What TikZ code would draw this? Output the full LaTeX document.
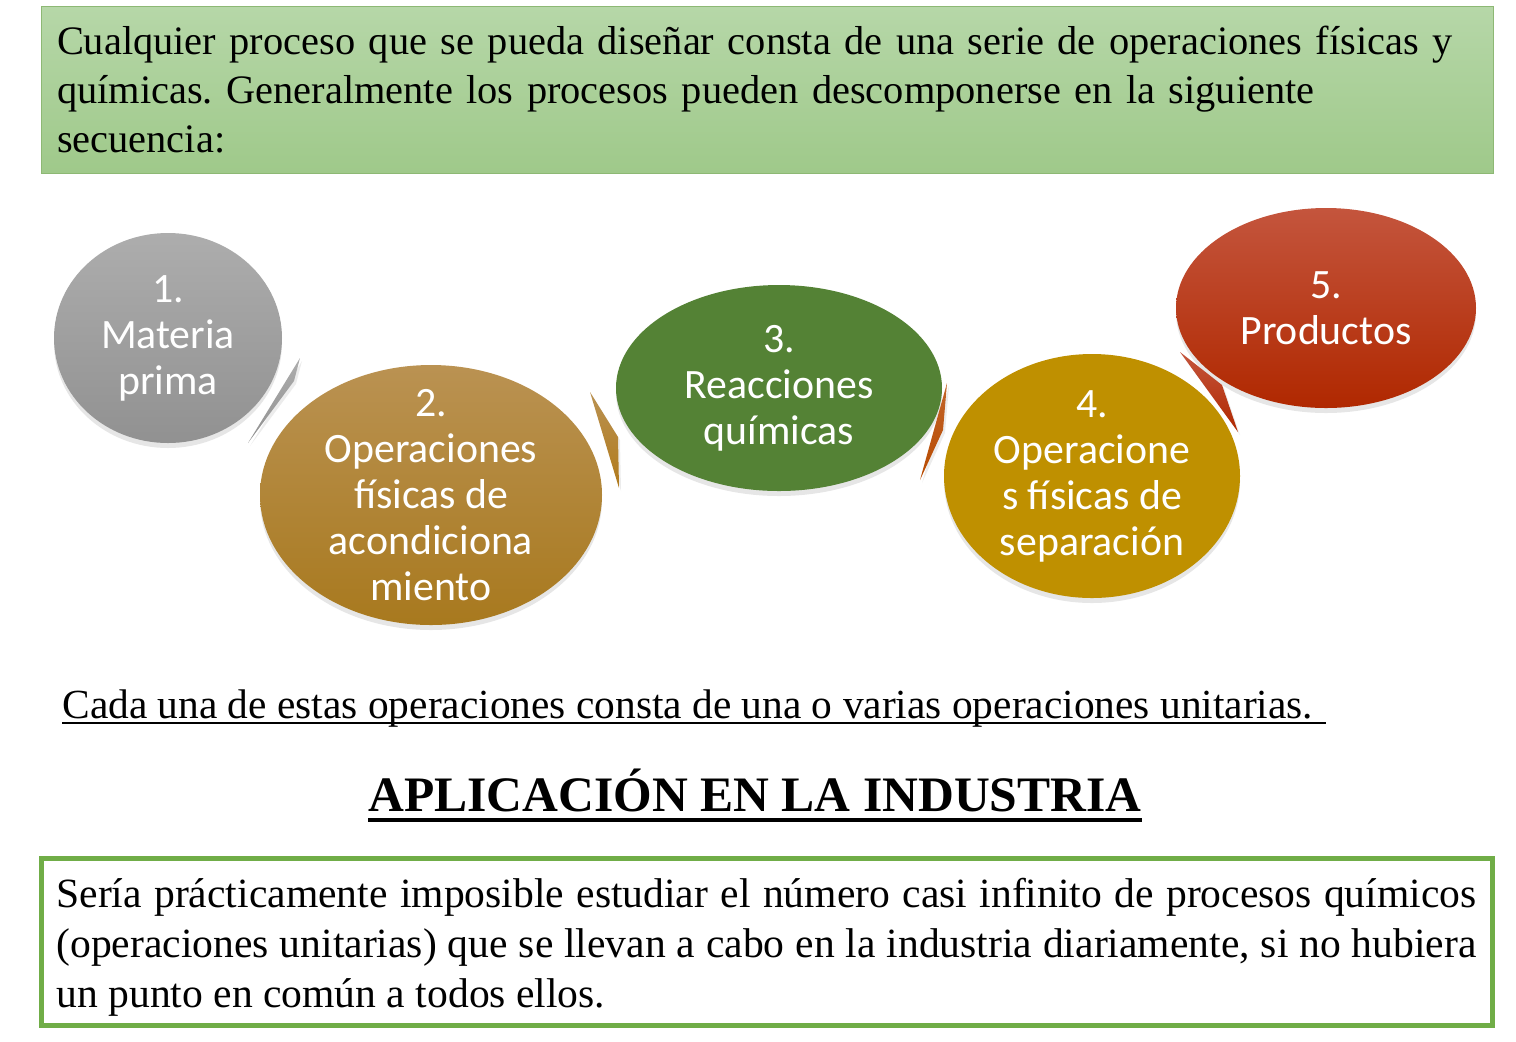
\documentclass[tikz,border=0pt]{standalone}
\usepackage{fontspec}
\setmainfont{Liberation Serif}
\newfontfamily\calibri{Carlito}
\usetikzlibrary{calc,shapes.geometric,shadows}
\frenchspacing

\definecolor{boxtop}{HTML}{B6D7A8}
\definecolor{boxbot}{HTML}{9FC98A}
\definecolor{boxline}{HTML}{8DB874}
\definecolor{frameline}{HTML}{70AD47}
\definecolor{grayA}{HTML}{ADADAD}
\definecolor{grayB}{HTML}{919191}
\definecolor{brownA}{HTML}{BA9252}
\definecolor{brownB}{HTML}{A8791E}
\definecolor{greenC}{HTML}{548235}
\definecolor{goldD}{HTML}{BF9000}
\definecolor{redA}{HTML}{C4553D}
\definecolor{redB}{HTML}{B02800}
\definecolor{rustA}{HTML}{C2652A}
\definecolor{rustB}{HTML}{B84A00}

\begin{document}
\begin{tikzpicture}[
		x=0.5pt, y=-0.5pt,
		every node/.style={inner sep=0pt},
		txt/.style={font=\fontsize{20.6}{24.5}\selectfont},
		stage/.style={ellipse, drop shadow={opacity=0.2, shadow xshift=0pt, shadow yshift=-2.5pt},
			label={[font=\calibri\fontsize{20.9}{23}\selectfont, text=white, align=center]center:#1}},
		wedge/.style={drop shadow={opacity=0.15, shadow xshift=1pt, shadow yshift=-1.5pt}},
	]
		\useasboundingbox (0,0) rectangle (1516,1041);
		
		\node [txt, font=\fontsize{20.2}{24.5}\selectfont, draw=boxline, top color=boxtop, bottom color=boxbot, minimum height=83.5pt, text width=710pt, inner xsep=8pt, align=left] (intro) at (767,89.5)
			{Cualquier proceso que se pueda diseñar consta de una serie de operaciones físicas y\\químicas. Generalmente los procesos pueden descomponerse en la siguiente\\secuencia:};
		
		\node [stage={1.\\Materia\\prima}, top color=grayA, bottom color=grayB, minimum width=114pt, minimum height=105pt] (prima) at (168,338) {};
		\node [stage={2.\\Operaciones\\físicas de\\acondiciona\\miento}, top color=brownA, bottom color=brownB, minimum width=171pt, minimum height=130pt] (acond) at (431,495) {};
		\node [stage={3.\\Reacciones\\químicas}, fill=greenC, minimum width=163pt, minimum height=103pt] (reacc) at (779,388) {};
		\node [stage={4.\\Operacione\\s físicas de\\separación}, fill=goldD, minimum width=148pt, minimum height=122pt] (separ) at (1092,476) {};
		\node [stage={5.\\Productos}, top color=redA, bottom color=redB, minimum width=150pt, minimum height=100pt] (prod) at (1326,308) {};
		
		\path [wedge, top color=grayA, bottom color=grayB] ($(prima)+(132,20)$) -- ($(prima)+(126,43)$) -- ($(acond)+(-183,-52)$) -- cycle;
		\path [wedge, top color=brownA, bottom color=brownB!90!orange] ($(acond)+(159,-103)$) -- ($(reacc)+(-161,49)$) -- ($(reacc)+(-160,100)$) -- cycle;
		\path [wedge, top color=rustA, bottom color=rustB] ($(reacc)+(168,-5)$) -- ($(reacc)+(164,42)$) -- ($(separ)+(-172,4)$) -- cycle;
		\path [wedge, top color=redA, bottom color=redB] ($(separ)+(88,-124)$) -- ($(prod)+(-104,77)$) -- ($(prod)+(-88,124)$) -- cycle;
		
		\node [txt, font=\fontsize{20.7}{24.5}\selectfont, anchor=base west] (cada) at (62,718) {Cada una de estas operaciones consta de una o varias operaciones unitarias.};
		\draw [line width=0.7pt] ($(cada.base west)+(0,5)$) -- ($(cada.base east)+(12,5)$);
		
		\node [font=\bfseries\fontsize{24.8}{28}\selectfont, anchor=base] (aplic) at (755,811) {APLICACIÓN EN LA INDUSTRIA};
		\draw [line width=2pt] ($(aplic.base west)+(0,9)$) -- ($(aplic.base east)+(0,9)$);
		
		\node [txt, font=\fontsize{20.8}{25}\selectfont, draw=frameline, line width=2.5pt, fill=white, minimum height=83.5pt, text width=710pt, inner xsep=7.75pt, align=justify] (nota) at (766.5,941.5)
			{\rule{0pt}{20.5pt}Sería prácticamente imposible estudiar el número casi infinito de procesos químicos\linebreak (operaciones unitarias) que se llevan a cabo en la industria diariamente, si no hubiera\linebreak un punto en común a todos ellos.};
	\end{tikzpicture}
\end{document}
